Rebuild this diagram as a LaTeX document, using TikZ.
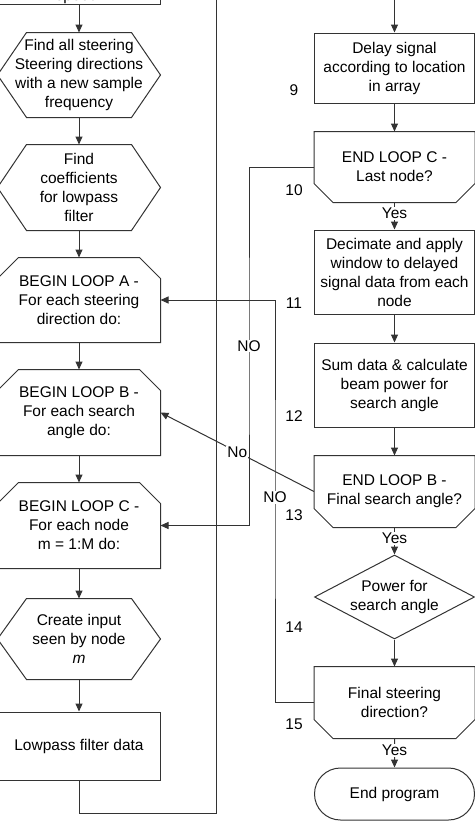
\documentclass[tikz,border=0pt]{standalone}
\usepackage{fontspec}
\setmainfont{Liberation Sans}
\usetikzlibrary{shapes.misc,shapes.geometric,arrows.meta}
\begin{document}
\begin{tikzpicture}[   % opciones por defecto
  x=1pt, y=-1pt,     % coordenadas en pixeles, y hacia abajo
  -{Triangle[length=8pt,width=7pt]}, % flecha al final
  draw=black!80,     % linea gris oscuro
  line width=1pt,
  font=\fontsize{15.5}{19}\selectfont
]
  \tikzstyle{box}=[draw, rectangle, align=center, inner sep=0pt, minimum width=160pt];
  \tikzstyle{hexbox}=[box, draw=none, minimum width=162pt]; % contorno dibujado abajo
  \tikzstyle{beginbox}=[box, draw=none, minimum width=162pt];
  \tikzstyle{endbox}=[box, draw=none];
  \tikzstyle{lbl}=[fill=white, inner sep=1pt];
  %
  \useasboundingbox (0,0) rectangle (474,822);
  %
  % columna izquierda
  \node [box, anchor=south, inner ysep=0.5pt, minimum width=162pt] (speed) at (79,4.5) {speed.};
  \node [hexbox, minimum height=84pt] (h1) at (79,75)
    {Find all steering\\Steering directions\\with a new sample\\frequency};
  \node [hexbox, minimum height=85pt] (h2) at (79,187.5)
    {Find\\coefficients\\for lowpass\\filter};
  \node [beginbox, minimum height=84pt] (loopA) at (79,300)
    {BEGIN LOOP A -\\For each steering\\direction do:};
  \node [beginbox, minimum height=85pt] (loopB) at (79,412.5)
    {BEGIN LOOP B -\\For each search\\angle do:};
  \node [beginbox, minimum height=85pt] (loopC) at (79,525.5)
    {BEGIN LOOP C -\\For each node\\m = 1:M do:};
  \node [hexbox, minimum height=80pt] (h3) at (79,639)
    {Create input\\seen by node\\\textit{m}};
  \node [box, minimum width=162pt, minimum height=68pt] (lowpass) at (79,746)
    {Lowpass filter data};
  %
  % columna derecha
  \node [box, minimum height=70pt] (delay) at (394.5,68)
    {Delay signal\\according to location\\in array};
  \node [endbox, minimum height=70pt] (endC) at (394.5,167)
    {END LOOP C -\\Last node?};
  \node [box, minimum height=84pt] (decimate) at (394.5,272)
    {Decimate and apply\\window to delayed\\signal data from each\\node};
  \node [box, minimum height=84pt] (sum) at (394.5,385)
    {Sum data \& calculate\\beam power for\\search angle};
  \node [endbox, minimum height=71pt] (endB) at (394.5,491.5)
    {END LOOP B -\\Final search angle?};
  \node [box, diamond, aspect=1.9, minimum height=84pt] (power) at (394.5,597)
    {Power for\\search angle};
  \node [endbox, minimum height=71pt] (final) at (394.5,702.5)
    {Final steering\\direction?};
  \node [box, rounded rectangle, minimum height=52pt] (endprog) at (394.5,794)
    {End program};
  %
  % contornos: hexagonos, inicio y fin de lazo
  \foreach \h in {h1,h2,h3}
    \draw[-] (\h.west) -- ([xshift=29pt]\h.north west) -- ([xshift=-29pt]\h.north east)
      -- (\h.east) -- ([xshift=-29pt]\h.south east) -- ([xshift=29pt]\h.south west) -- cycle;
  \foreach \b in {loopA,loopB,loopC}
    \draw[-] (\b.south west) -- (\b.south east) -- ([yshift=-21pt]\b.north east)
      -- ([xshift=-21pt]\b.north east) -- ([xshift=21pt]\b.north west)
      -- ([yshift=-21pt]\b.north west) -- cycle;
  \foreach \b in {endC,endB,final}
    \draw[-] (\b.north west) -- (\b.north east) -- ([yshift=19pt]\b.south east)
      -- ([xshift=-19pt]\b.south east) -- ([xshift=19pt]\b.south west)
      -- ([yshift=19pt]\b.south west) -- cycle;
  %
  % numeros de paso
  \foreach \n/\y in {9/90,10/190,11/303,12/416,13/515,14/627,15/724}
    \node (num\n) at (294,\y) {\n};
  %
  % flujo principal
  \draw (speed) -- (h1);
  \draw (h1) -- (h2);
  \draw (h2) -- (loopA);
  \draw (loopA) -- (loopB);
  \draw (loopB) -- (loopC);
  \draw (loopC) -- (h3);
  \draw (h3) -- (lowpass);
  \draw (delay) -- (endC);
  \draw (endC) -- (decimate) node [lbl, pos=0.4] {Yes};
  \draw (decimate) -- (sum);
  \draw (sum) -- (endB);
  \draw (endB) -- (power) node [lbl, pos=0.4] {Yes};
  \draw (power) -- (final);
  \draw (final) -- (endprog) node [lbl, pos=0.4] {Yes};
  %
  % retorno de lazo C (fuera del dibujo por arriba)
  \coordinate (arriba) at (216,-20);
  \draw (lowpass.south) -- ++(0,33) -| (arriba) -| (delay.north);
  %
  % ramas NO
  \draw (endC.west) -- ++(-65,0) -- ++(0,179) node [lbl] {NO} |- (loopC.east);
  \draw (endB.west) -- (loopB.east) node [lbl, pos=0.5] {No};
  \draw (final.west) -- ++(-39,0) -- ++(0,-205) node [lbl] {NO} |- (loopA.east);
\end{tikzpicture}
\end{document}
